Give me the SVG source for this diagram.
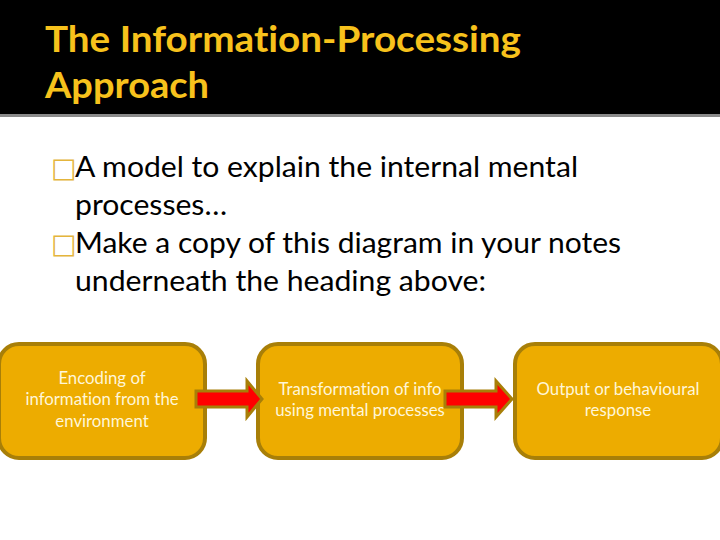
<svg xmlns="http://www.w3.org/2000/svg" width="720" height="540" viewBox="0 0 720 540">
<style>
text{font-variant-ligatures:none}
.title{font-family:Lato,"Open Sans","Liberation Sans",sans-serif;font-weight:bold;font-size:36px;fill:#F7C21C}
.body{font-family:Lato,"Open Sans","Liberation Sans",sans-serif;font-size:29px;fill:#000}
.bullet{font-family:"DejaVu Sans",sans-serif;font-size:27px;fill:#E4B53C}
.box{fill:#EDAC00;stroke:#A87F08;stroke-width:4}
.lbl{font-family:Lato,"Open Sans","Liberation Sans",sans-serif;font-size:16.8px;fill:#FFF6D8;text-anchor:middle}
.arrow{fill:#FF0000;stroke:#A87F08;stroke-width:3;stroke-linejoin:miter}
</style>
<rect x="0" y="0" width="720" height="540" fill="#FFFFFF"/>
<g id="header">
<rect x="0" y="0" width="720" height="114" fill="#000000"/>
<rect x="0" y="114" width="720" height="3" fill="#8A8A8A"/>
<text class="title" x="45" y="52" textLength="476" lengthAdjust="spacingAndGlyphs">The Information-Processing</text>
<text class="title" x="45" y="98" textLength="164" lengthAdjust="spacingAndGlyphs">Approach</text>
</g>
<g id="bullets">
<text class="bullet" x="51" y="177">□</text>
<text class="body" x="75" y="177" textLength="503" lengthAdjust="spacingAndGlyphs">A model to explain the internal mental</text>
<text class="body" x="75" y="215" textLength="152" lengthAdjust="spacingAndGlyphs">processes…</text>
<text class="bullet" x="51" y="253">□</text>
<text class="body" x="75" y="253" textLength="546" lengthAdjust="spacingAndGlyphs">Make a copy of this diagram in your notes</text>
<text class="body" x="75" y="291" textLength="411" lengthAdjust="spacingAndGlyphs">underneath the heading above:</text>
</g>
<g id="node1">
<rect class="box" x="-1" y="344" width="206" height="114" rx="20"/>
<text class="lbl" x="102" y="384">Encoding of</text>
<text class="lbl" x="102" y="405">information from the</text>
<text class="lbl" x="102" y="427">environment</text>
</g>
<g id="node2">
<rect class="box" x="258" y="344" width="204" height="114" rx="20"/>
<text class="lbl" x="360" y="395">Transformation of info</text>
<text class="lbl" x="360" y="416">using mental processes</text>
</g>
<g id="node3">
<rect class="box" x="515" y="344" width="207" height="114" rx="20"/>
<text class="lbl" x="618" y="395">Output or behavioural</text>
<text class="lbl" x="618" y="416">response</text>
</g>
<g id="connectors">
<path class="arrow" d="M196,391 L247,391 L247,381 L262,399 L247,417 L247,407 L196,407 Z"/>
<path class="arrow" d="M445,391 L496,391 L496,381 L512,399 L496,417 L496,407 L445,407 Z"/>
</g>
</svg>
